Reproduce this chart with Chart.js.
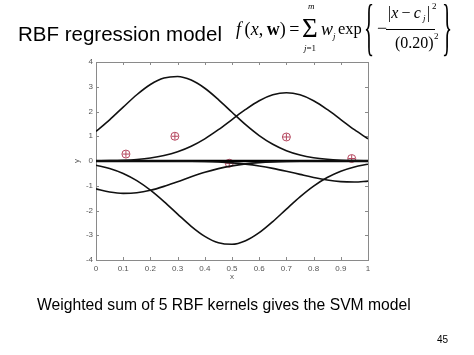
<!DOCTYPE html>
<html>
<head>
<meta charset="utf-8">
<script src="https://cdn.jsdelivr.net/npm/chart.js@4"></script>
<style>
  html, body { margin:0; padding:0; background:#fff; }
  #wrap { position:relative; width:474px; height:355px; overflow:hidden; background:#fff; }
  #c { position:absolute; left:0; top:0; }
  .t { position:absolute; white-space:nowrap; line-height:1; color:#000; }
  .sans { font-family:"Liberation Sans", Arial, sans-serif; }
  .serif { font-family:"Liberation Serif", "Times New Roman", serif; }
</style>
</head>
<body>
<div id="wrap">
  <canvas id="c" width="474" height="355"></canvas>

  <div class="t sans" style="left:18px; top:24px; font-size:20.5px;">RBF regression model</div>

  <!-- formula -->
  <div class="t serif" style="left:236px; top:20px; font-size:18px;"><i>f</i>&#8201;(<i>x</i>,&#8201;<b>w</b>)&#8201;=</div>
  <div class="t serif" style="left:302px; top:15px; font-size:27px;">&Sigma;</div>
  <div class="t serif" style="left:308px; top:2px; font-size:9px;"><i>m</i></div>
  <div class="t serif" style="left:304px; top:44px; font-size:9px;"><i>j</i>=1</div>
  <div class="t serif" style="left:321px; top:20px; font-size:18px;"><i>w</i></div>
  <div class="t serif" style="left:333px; top:32px; font-size:9px;"><i>j</i></div>
  <div class="t serif" style="left:338px; top:21px; font-size:16.5px;">exp</div>
  <div class="t serif" style="left:364px; top:-3px; font-size:21px; transform-origin:0 0; transform:scaleY(3);">{</div>
  <div class="t serif" style="left:377px; top:19px; font-size:18px;">&minus;</div>
  <div class="t serif" style="left:388px; top:5px; font-size:16px;">|<i>x</i>&#8201;&minus;&#8201;<i>c</i></div>
  <div class="t serif" style="left:423px; top:14px; font-size:9px;"><i>j</i></div>
  <div class="t serif" style="left:427px; top:5px; font-size:16px;">|</div>
  <div class="t serif" style="left:432px; top:2px; font-size:9px;">2</div>
  <div style="position:absolute; left:386px; top:29px; width:49px; height:1px; background:#000;"></div>
  <div class="t serif" style="left:395px; top:35px; font-size:16px;">(0.20)</div>
  <div class="t serif" style="left:434px; top:32px; font-size:9px;">2</div>
  <div class="t serif" style="left:442px; top:-3px; font-size:21px; transform-origin:0 0; transform:scaleY(3);">}</div>

  <div class="t sans" style="left:37px; top:297px; font-size:15.7px;">Weighted sum of 5 RBF kernels gives the SVM model</div>
  <div class="t sans" style="left:437px; top:335px; font-size:10px;">45</div>
</div>

<script>
// ---- data ----
const xs = [0, 0.05, 0.10, 0.15, 0.20, 0.25, 0.30, 0.35, 0.40, 0.45, 0.50,
            0.55, 0.60, 0.65, 0.70, 0.75, 0.80, 0.85, 0.90, 0.95, 1.00];

// kernel centred near x = 0.29 (positive, peak ~3.4)
const kernelA = [1.195, 1.665, 2.178, 2.677, 3.091, 3.352, 3.416, 3.270, 2.940, 2.483, 1.971,
                 1.469, 1.029, 0.677, 0.418, 0.243, 0.132, 0.068, 0.033, 0.015, 0.006];
// kernel centred near x = 0.70 (positive, peak ~2.76)
const kernelB = [0.006, 0.014, 0.031, 0.063, 0.121, 0.220, 0.373, 0.597, 0.896, 1.264, 1.674,
                 2.083, 2.436, 2.674, 2.760, 2.674, 2.436, 2.083, 1.674, 1.264, 0.896];
// kernel centred near x = 0.49 (negative, trough ~-3.37)
const kernelC = [-0.168, -0.300, -0.503, -0.794, -1.178, -1.640, -2.146, -2.638, -3.045, -3.303, -3.366,
                 -3.222, -2.897, -2.447, -1.942, -1.448, -1.014, -0.667, -0.412, -0.239, -0.130];
// kernel centred near x = 0.11 (negative, trough ~-1.31)
const kernelD = [-1.126, -1.252, -1.308, -1.284, -1.184, -1.025, -0.834, -0.638, -0.458, -0.309, -0.196,
                 -0.116, -0.065, -0.034, -0.017, -0.008, -0.003, -0.001, 0, 0, 0];
// kernel centred near x = 0.94 (negative, trough ~-0.85)
const kernelE = [0, 0, 0, 0, -0.001, -0.002, -0.005, -0.011, -0.022, -0.042, -0.076,
                 -0.127, -0.200, -0.297, -0.414, -0.541, -0.665, -0.768, -0.833, -0.849, -0.813];

// baseline drawn at y = 0
const zeroX = [0, 1];
const zeroY = [0, 0];

// training points (red circled plus)
const pointX = [0.11, 0.29, 0.49, 0.70, 0.94];
const pointY = [0.28, 1.00, -0.09, 0.97, 0.10];

// tick values
const xTickValues = [0, 0.1, 0.2, 0.3, 0.4, 0.5, 0.6, 0.7, 0.8, 0.9, 1];
const yTickValues = [-4, -3, -2, -1, 0, 1, 2, 3, 4];

// ---- build chart ----
const toXY = (xArr, yArr) => xArr.map((x, i) => ({ x: x, y: yArr[i] }));

const curveStyle = {
  borderColor: '#111', borderWidth: 1.6, pointRadius: 0, fill: false,
  tension: 0.4, cubicInterpolationMode: 'monotone'
};
const markColor = '#b5475f';

const frameAndTicks = {
  id: 'frameAndTicks',
  beforeDatasetsDraw(chart) {
    const { ctx, chartArea: a, scales } = chart;
    ctx.save();
    ctx.strokeStyle = '#8a8a8a';
    ctx.lineWidth = 1;
    ctx.strokeRect(Math.round(a.left) + 0.5, Math.round(a.top) + 0.5,
                   Math.round(a.right - a.left), Math.round(a.bottom - a.top));
    const L = 3;
    ctx.beginPath();
    scales.x.ticks.forEach(t => {
      const px = Math.round(scales.x.getPixelForValue(t.value)) + 0.5;
      ctx.moveTo(px, a.bottom); ctx.lineTo(px, a.bottom - L);
      ctx.moveTo(px, a.top); ctx.lineTo(px, a.top + L);
    });
    scales.y.ticks.forEach(t => {
      const py = Math.round(scales.y.getPixelForValue(t.value)) + 0.5;
      ctx.moveTo(a.left, py); ctx.lineTo(a.left + L, py);
      ctx.moveTo(a.right, py); ctx.lineTo(a.right - L, py);
    });
    ctx.stroke();
    ctx.restore();
  }
};

const tickFont = { family: '"Liberation Sans", Arial, sans-serif', size: 8 };

new Chart(document.getElementById('c'), {
  type: 'line',
  data: {
    datasets: [
      Object.assign({ data: toXY(xs, kernelA) }, curveStyle),
      Object.assign({ data: toXY(xs, kernelB) }, curveStyle),
      Object.assign({ data: toXY(xs, kernelC) }, curveStyle),
      Object.assign({ data: toXY(xs, kernelD) }, curveStyle),
      Object.assign({ data: toXY(xs, kernelE) }, curveStyle),
      { data: toXY(zeroX, zeroY), borderColor: '#000', borderWidth: 2.6, pointRadius: 0, tension: 0 },
      { data: toXY(pointX, pointY), showLine: false, pointStyle: 'circle', pointRadius: 4,
        pointBorderColor: markColor, pointBackgroundColor: 'rgba(0,0,0,0)', pointBorderWidth: 1 },
      { data: toXY(pointX, pointY), showLine: false, pointStyle: 'cross', pointRadius: 3.5,
        pointBorderColor: markColor, pointBorderWidth: 1 }
    ]
  },
  options: {
    responsive: false,
    animation: false,
    events: [],
    layout: { padding: { left: 68, right: 106, top: 62, bottom: 69 } },
    plugins: { legend: { display: false }, tooltip: { enabled: false } },
    scales: {
      x: {
        type: 'linear', min: 0, max: 1,
        afterBuildTicks: s => { s.ticks = xTickValues.map(v => ({ value: v })); },
        afterFit: s => { s.height = 26; },
        grid: { display: false, drawTicks: false }, border: { display: false },
        ticks: { padding: 4, color: '#555', font: tickFont, maxRotation: 0, autoSkip: false,
                 callback: v => String(+v.toFixed(1)) },
        title: { display: true, text: 'x', color: '#555', font: { family: tickFont.family, size: 8 },
                 padding: { top: 0, bottom: 4 } }
      },
      y: {
        type: 'linear', min: -4, max: 4,
        afterBuildTicks: s => { s.ticks = yTickValues.map(v => ({ value: v })); },
        afterFit: s => { s.width = 28; },
        grid: { display: false, drawTicks: false }, border: { display: false },
        ticks: { padding: 3, color: '#555', font: tickFont, autoSkip: false,
                 callback: v => String(v) },
        title: { display: true, text: 'y', color: '#555', font: { family: tickFont.family, size: 8 },
                 padding: { top: 4, bottom: 0 } }
      }
    }
  },
  plugins: [frameAndTicks]
});
</script>
</body>
</html>
